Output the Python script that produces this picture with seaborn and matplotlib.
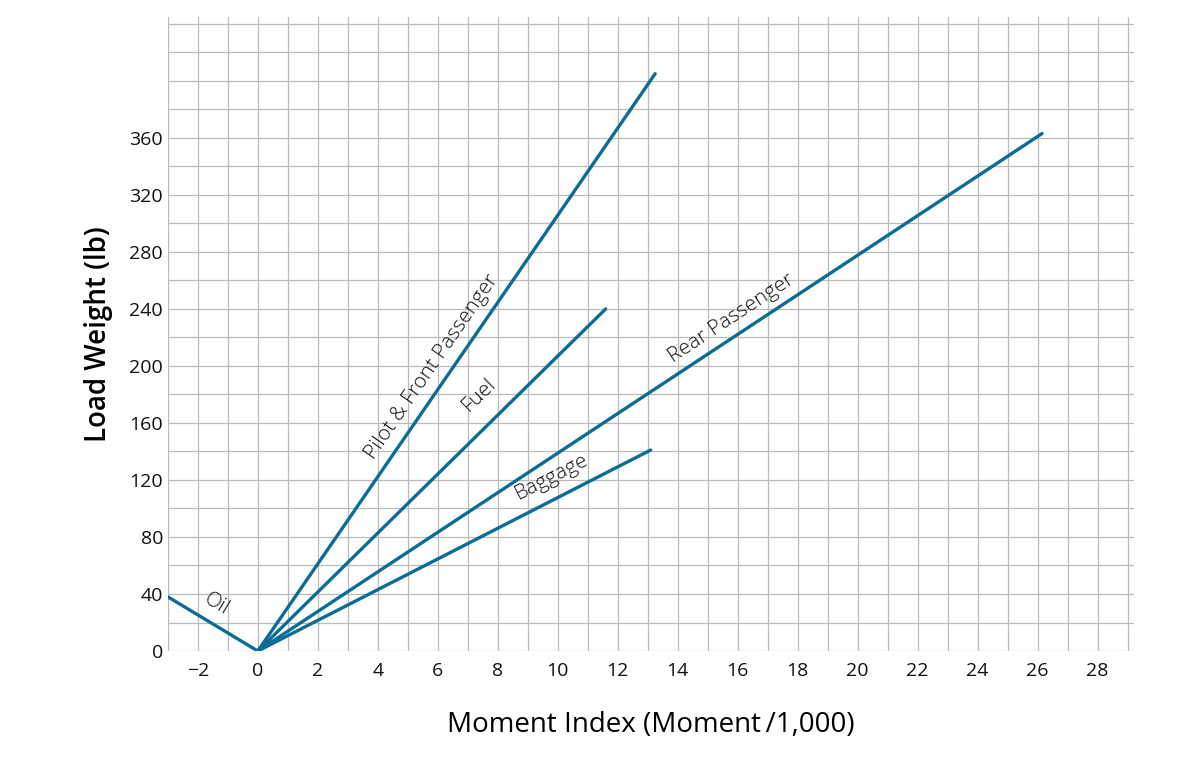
import numpy as np
import matplotlib.pyplot as plt
import seaborn as sns
import pandas as pd

sns.set_theme(style="white")
plt.rcParams['font.family'] = ['Open Sans', 'DejaVu Sans']

# line endpoints (all start at origin)
names = ["Oil", "Pilot & Front Passenger", "Fuel", "Rear Passenger", "Baggage"]
end_moment = [-3.0, 13.25, 11.6, 26.15, 13.1]
end_weight = [38, 405, 240, 363, 141]
label_x = [-1.4, 5.8, 7.4, 15.8, 9.8]
label_y = [33, 199, 180, 233, 122]

rows = []
for n, mx, wy in zip(names, end_moment, end_weight):
    rows.append({"line": n, "moment": 0.0, "weight": 0})
    rows.append({"line": n, "moment": mx, "weight": wy})
df = pd.DataFrame(rows)

color = "#0b6d97"
fig = plt.figure(figsize=(11.82, 7.57), dpi=100)
ax = fig.add_axes([0.142, 0.14, 0.817, 0.838])
sns.lineplot(data=df, x="moment", y="weight", units="line", estimator=None,
             color=color, lw=2.4, ax=ax, sort=False)

ax.set_xlim(-3, 29.2)
ax.set_ylim(0, 445)
ax.set_xticks(np.arange(-3, 30, 1), minor=True)
ax.set_yticks(np.arange(0, 445, 20), minor=True)
ax.set_xticks(np.arange(-2, 30, 2))
ax.set_xticklabels(["\u22122" if v == -2 else str(v) for v in np.arange(-2, 30, 2)])
ax.set_yticks(np.arange(0, 400, 40))
ax.grid(which="both", color="#bbbbbb", lw=0.9)
ax.set_axisbelow(True)
for s in ax.spines.values():
    s.set_visible(False)
ax.tick_params(which="both", length=0, labelsize=14, colors="#111111")
ax.tick_params(axis="x", pad=8)
ax.set_xlabel("Moment Index (Moment\u2009/1,000)", fontsize=20, labelpad=22, color="black")
ax.set_ylabel("Load Weight (lb)", fontsize=20, labelpad=12, color="black", fontweight="semibold")

for n, mx, wy, lx, ly in zip(names, end_moment, end_weight, label_x, label_y):
    ang = np.degrees(np.arctan2(wy, mx))
    if mx < 0:
        ang = np.degrees(np.arctan2(-wy, -mx))
    ax.text(lx, ly, n, rotation=ang, transform_rotates_text=True,
            rotation_mode="anchor", ha="center", va="center",
            fontsize=15, color="#111111", fontweight="light")

plt.savefig("out.png", dpi=100)
